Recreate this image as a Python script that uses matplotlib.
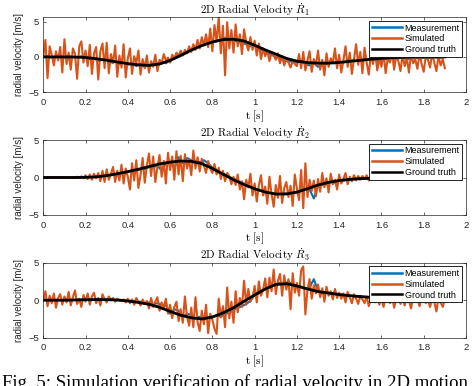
import numpy as np
import matplotlib
matplotlib.use("Agg")
import matplotlib.pyplot as plt

plt.rcParams['mathtext.fontset'] = 'cm'
plt.rcParams['font.family'] = ['Liberation Sans', 'DejaVu Sans']

# ---------------- data ----------------
t_sim_step = 0.01
t_meas_step = 0.02
t_gt_step = 0.05

sim1 = [0.0, 2.4, -3.0, 1.5, 0.3, -1.2, 0.8, -0.5, 1.4, -2.2,
        2.5, -1.0, 0.6, -1.8, 1.2, 0.4, -3.1, 1.5, 2.2, -0.8,
        0.9, -1.3, 1.7, -2.4, 0.5, 1.4, -3.2, 0.8, 1.9, -1.6,
        2.0, -2.3, 0.4, -0.9, 1.6, -2.8, 0.2, -1.5, 1.8, -2.9,
        -0.2, 1.2, -2.4, 0.1, -0.9, 0.9, -2.5, -0.3, -1.6, 0.2,
        -2.2, -0.6, -1.4, 0.3, -2.0, -0.4, -0.9, 0.4, -0.5, -0.1,
        -0.8, 0.3, -0.2, 0.6, 0.1, 0.9, 0.2, 1.0, 0.5, 1.5,
        0.7, 1.8, 1.0, 2.4, 1.2, 2.8, 1.6, 3.2, 1.4, 4.0,
        0.8, 4.5, 2.2, 5.6, 0.5, 4.4, -2.6, 4.9, 1.2, 3.8,
        0.6, 4.6, 1.5, 3.2, 0.4, 3.9, 2.0, 0.9, 2.8, 1.0,
        2.3, 0.2, 1.9, -0.3, 1.2, 0.1, 0.9, -0.6, 0.6, 0.2,
        -0.4, 0.5, -0.9, 0.1, -1.2, -0.3, -0.8, -1.5, -0.6, -1.0,
        -1.3, 0.4, -1.6, 0.7, -1.9, -0.5, 0.8, -2.1, -0.3, -1.2,
        0.9, -1.8, -0.4, -2.6, 0.5, -1.4, -0.2, -0.9, 1.2, -1.6,
        0.3, -2.2, -0.5, 1.5, -1.4, 0.6, -2.4, -0.3, 1.8, -1.1,
        0.7, -2.3, 1.3, -0.8, -2.5, 0.4, -1.0, 0.9, -1.9, -0.2,
        -1.4, 0.5, -2.3, -0.1, -0.8, 0.6, -1.8, 0.2, -0.6, -2.0,
        0.3, -1.3, -0.2, -2.2, 0.4, -0.9, -0.3, -1.7, 0.5, -1.0,
        -2.1, 0.2, -0.4, -1.5, 0.6, -0.8, -2.0, 0.1, -1.2, -0.3,
        -1.6]
meas1 = [0, 0.1, -0.1, 0.05, 0, -0.1, 0.1, 0, -0.05, 0.1,
         -0.1, -0.3, -0.2, -0.6, -0.4, -0.3, -0.8, -0.6, -1.0, -0.8,
         -1.1, -0.9, -1.3, -1.0, -1.4, -1.1, -1.2, -0.9, -0.7, -0.9,
         -0.4, -0.2, 0.3, 0.5, 0.8, 1.1, 1.4, 1.5, 1.8, 2.2,
         2.0, 2.4, 2.3, 2.7, 2.5, 2.4, 2.1, 2.0, 1.8, 1.5,
         1.6, 1.1, 0.9, 0.5, 0.3, 0.0, -0.2, -0.5, -0.6, -0.7,
         -0.8, -0.6, -1.0, -1.2, -0.8, -1.4, -0.9, -1.0, -0.8, -0.9,
         -0.7, -0.8, -0.6, -0.5, -0.6, -0.5, -0.3, -0.4, -0.3, -0.6,
         -0.5, -0.3, -0.2, -0.4, -0.2, -0.1, -0.3, -0.2, -0.1, -0.2,
         -0.1, -0.2, 0.0, -0.1, -0.1, 0.0]
gt1 = [0, 0, 0, -0.02, -0.08, -0.25, -0.47, -0.72, -0.95, -1.12,
       -1.2, -1.0, -0.5, 0.2, 0.95, 1.6, 2.1, 2.45, 2.5, 2.25,
       1.65, 1.0, 0.4, -0.2, -0.6, -0.8, -0.88, -0.88, -0.78, -0.62,
       -0.48, -0.32, -0.2, -0.1, -0.05, 0, 0, 0, 0]

sim2 = [0, 0.02, -0.02, 0.03, -0.03, 0.02, 0, -0.02, 0.03, 0,
        -0.03, 0.04, 0, -0.05, 0.06, -0.04, 0.1, -0.08, 0.15, -0.1,
        0.3, -0.2, 0.4, -0.3, 0.5, -0.1, 0.6, -0.5, 0.9, -0.6,
        1.1, -0.3, 0.5, 1.4, -0.6, 0.9, -0.4, 1.7, -0.8, 1.2,
        0.1, -1.6, 1.9, -0.4, 2.3, -1.4, 0.3, 2.6, -0.7, 1.6,
        3.2, 0.2, 2.8, -0.6, 1.4, 3.0, 0.1, 2.2, -0.8, 3.3,
        1.0, 2.8, -0.3, 3.5, 0.4, 2.9, -0.5, 3.1, 1.2, 2.4,
        0.3, 3.6, 1.2, 2.7, 0.8, 2.5, 1.6, 0.6, 2.2, 1.2,
        0.6, 1.8, 0.4, 1.3, -0.2, 0.9, -0.5, 0.6, 0.2, -0.9,
        0.1, -1.0, 0.4, -1.6, -0.5, -2.9, -0.3, -1.3, 0.5, -2.4,
        -0.8, -3.2, -1.0, 0.3, -2.4, -1.2, -3.5, 0.1, -2.2, -3.9,
        -1.0, -2.7, 0.2, -3.4, -1.4, -0.6, -2.6, -1.1, -3.8, 0.4,
        -1.5, -3.0, 1.0, -4.1, 1.9, -2.6, -0.3, -1.8, -0.4, -2.5,
        -0.2, -1.9, 0.6, -1.3, -0.1, -2.0, 0.5, -0.9, -0.3, -1.6,
        0.4, -0.8, -0.2, 0.6, -0.9, 0.1, -0.5, 0.3, -0.4, 0.2,
        -0.3, 0.2, -0.2, 0.3, -0.4, 0.1, -0.2, 0.2, -0.1, 0.1,
        -0.2, 0.1, -0.1, 0.2, -0.2, 0.1, 0, 0.1, -0.1, 0.1,
        0, -0.1, 0.1, -0.1, 0, 0.1, -0.1, 0, 0.1, -0.1,
        0, 0.1, -0.1, 0, 0.1, -0.1, 0, 0.1, 0, -0.1,
        0]
meas2 = [0, 0, 0, 0, 0, 0, 0, 0, 0, 0.02,
         0.02, 0.05, 0.1, 0.15, 0.2, 0.3, 0.35, 0.45, 0.55, 0.65,
         0.75, 0.9, 0.85, 1.15, 1.1, 1.4, 1.35, 1.6, 0.9, 1.9,
         2.0, 1.3, 2.7, 1.9, 2.6, 2.3, 2.2, 2.0, 2.3, 1.9,
         1.3, 1.0, 0.6, 0.4, 0.1, -0.2, -0.4, -0.7, -0.9, -1.2,
         -1.5, -1.6, -1.9, -2.0, -2.1, -2.3, -2.2, -2.1, -2.2, -2.1,
         -2.0, -1.6, -1.5, -1.6, -2.8, -1.1, -1.0, -0.9, -0.6, -0.7,
         -0.4, -0.4, -0.3, -0.3, -0.2, -0.2, -0.15, -0.1, -0.1, -0.05,
         -0.05, 0, 0, 0, 0, 0, 0, 0, 0, 0,
         0, 0, 0, 0, 0, 0]
gt2 = [0, 0, 0, 0, 0.02, 0.08, 0.25, 0.5, 0.78, 1.1,
       1.45, 1.8, 2.05, 2.2, 2.15, 1.85, 1.2, 0.45, -0.3, -0.95,
       -1.5, -1.95, -2.2, -2.2, -1.95, -1.5, -1.0, -0.65, -0.4, -0.25,
       -0.15, -0.1, -0.05, 0, 0, 0, 0, 0, 0]

sim3 = [0, 1.2, -0.8, 0.6, -0.4, 0.9, -1.0, 0.3, 0.8, -0.6,
        0.5, -0.3, 1.1, -0.7, 0.4, 1.3, -0.5, 0.2, -0.9, 0.7,
        -0.2, 0.9, -0.6, 0.5, 1.0, -0.4, 0.3, -0.7, 0.8, 0.1,
        -0.3, 0.5, 0.0, 0.3, -0.2, 0.2, 0.0, -0.1, 0.1, -0.3,
        0.2, -0.4, 0.1, -0.6, 0.3, -0.2, -0.7, 0.1, -0.5, -0.1,
        -1.1, 0.3, -0.9, -0.2, 0.4, -1.4, -0.3, -1.0, 0.2, -1.8,
        -0.6, -2.4, -0.9, -0.2, -2.8, -1.2, -3.0, 0.5, -2.2, -3.4,
        -1.0, -3.6, 0.4, -2.9, -4.1, -1.4, -3.2, -0.6, -4.4, -1.8,
        -2.6, -3.8, -4.5, 0.2, -2.3, -0.8, -3.6, 1.7, -2.4, -0.2,
        -3.0, 1.2, -1.6, 0.3, -0.9, 2.6, -0.6, 1.5, -0.2, 0.4,
        1.9, -0.3, 2.5, 0.6, 1.4, 2.9, 0.4, 3.0, 1.2, 4.1,
        0.8, 2.6, 3.5, 0.6, 3.3, 1.4, 2.8, -1.2, 3.6, 1.0,
        2.3, 0.6, 4.0, 4.5, -1.9, 1.4, 2.8, 0.2, 2.0, 0.9,
        2.1, 0.4, 1.6, -0.2, 1.8, 0.6, 1.2, 0.1, 1.5, 0.3,
        1.0, 0.2, 0.9, -0.3, 1.1, 0.4, -0.4, 0.8, 0.2, -0.5,
        0.6, 0.1, -0.4, 0.5, -0.8, 0.2, 0.7, -0.3, 0.4, -0.6,
        0.3, -0.9, 0.5, 0.1, -0.4, 0.6, -1.0, 0.2, 0.4, -0.5,
        0.3, -0.7, 0.5, 0.0, -1.1, 0.4, -0.2, 0.3, -0.8, 0.2,
        0.5, -0.4, 0.1, -0.9, 0.3, -0.2, -1.5, 0.4, -0.3, -0.9,
        0.2]
meas3 = [0, 0.05, 0, 0.05, 0, 0.05, 0, 0.05, 0.05, 0.05,
         0.05, 0.1, 0.05, 0.1, 0.1, 0.05, 0.1, 0.05, 0.05, 0,
         -0.1, -0.1, -0.2, -0.2, -0.4, -0.3, -0.5, -0.4, -0.6, -0.7,
         -1.8, -1.2, -1.4, -2.3, -1.8, -2.0, -2.4, -2.2, -2.5, -2.3,
         -2.2, -2.0, -2.2, -1.8, -1.7, -1.3, -1.0, -0.8, -0.5, -0.1,
         0.7, 0.9, 1.3, 1.6, 1.8, 2.1, 2.3, 2.1, 2.5, 2.0,
         1.9, 1.8, 1.5, 1.7, 2.8, 1.2, 1.1, 1.0, 0.9, 1.0,
         0.75, 0.7, 0.65, 0.6, 0.55, 0.5, 0.45, 0.4, 0.4, 0.35,
         0.3, 0.28, 0.25, 0.22, 0.2, 0.18, 0.15, 0.12, 0.1, 0.08,
         0.06, 0.05, 0.03, 0.02, 0.01, 0]
gt3 = [0, 0, 0, 0.03, 0.06, 0.08, 0.07, 0.02, -0.1, -0.3,
       -0.55, -0.95, -1.5, -2.0, -2.35, -2.5, -2.25, -1.7, -1.0, -0.15,
       0.7, 1.5, 2.1, 2.2, 1.9, 1.5, 1.15, 0.95, 0.75, 0.6,
       0.48, 0.38, 0.3, 0.22, 0.16, 0.1, 0.06, 0.03, 0]

titles = [r'$\mathrm{2D\ Radial\ Velocity}\ \dot{R}_1$',
          r'$\mathrm{2D\ Radial\ Velocity}\ \dot{R}_2$',
          r'$\mathrm{2D\ Radial\ Velocity}\ \dot{R}_3$']
ylims = [(-5, 5.6), (-5, 5), (-5, 5)]
xticks = [0, 0.2, 0.4, 0.6, 0.8, 1, 1.2, 1.4, 1.6, 1.8, 2]
xtick_labels = ['0', '0.2', '0.4', '0.6', '0.8', '1', '1.2', '1.4', '1.6', '1.8', '2']
yticks = [-5, 0, 5]
legend_labels = ['Measurement', 'Simulated', 'Ground truth']
caption = 'Fig. 5: Simulation verification of radial velocity in 2D motion'

C_BLUE = '#0072BD'
C_ORANGE = '#D95319'
AX_COL = '#262626'

W, H = 474, 386
fig = plt.figure(figsize=(W / 100, H / 100), dpi=100)

panels = [(sim1, meas1, gt1), (sim2, meas2, gt2), (sim3, meas3, gt3)]
tops_px = [17.3, 140.0, 262.7]
left_px, right_px, h_px = 43.3, 466.0, 75.0

for i, (sim, meas, gt) in enumerate(panels):
    ax = fig.add_axes([left_px / W, 1 - (tops_px[i] + h_px) / H,
                       (right_px - left_px) / W, h_px / H])
    ts = np.arange(len(sim)) * t_sim_step
    tm = np.arange(len(meas)) * t_meas_step
    tg = np.arange(len(gt)) * t_gt_step
    l1, = ax.plot(tm, meas, color=C_BLUE, lw=1.5)
    l2, = ax.plot(ts, sim, color=C_ORANGE, lw=1.5)
    l3, = ax.plot(tg, gt, color='black', lw=2.0)
    ax.set_xlim(0, 2)
    ax.set_ylim(*ylims[i])
    ax.set_xticks(xticks)
    ax.set_xticklabels(xtick_labels)
    ax.set_yticks(yticks)
    ax.tick_params(direction='in', top=True, right=True, length=2.5,
                   width=0.5, colors=AX_COL, labelsize=6.8)
    ax.tick_params(axis='x', pad=4)
    ax.tick_params(axis='y', pad=3)
    for s in ax.spines.values():
        s.set_linewidth(0.5)
        s.set_color(AX_COL)
    ax.set_title(titles[i], fontsize=8, pad=2.5)
    ax.set_ylabel('radial velocity [m/s]', fontsize=7, color=AX_COL, labelpad=3)
    ax.set_xlabel(r'$\mathrm{t\ [s]}$', fontsize=8, labelpad=1)
    leg = ax.legend([l1, l2, l3], legend_labels, loc='upper right',
                    fontsize=6.5, fancybox=False, framealpha=1,
                    edgecolor='black', handlelength=3.3, handletextpad=0.3,
                    labelspacing=0.2, borderpad=0.3, borderaxespad=0.4)
    leg.get_frame().set_linewidth(0.6)
    for ln in leg.get_lines():
        ln.set_linewidth(1.8)

fig.text(2 / W, -1.5 / H, caption, family='Liberation Serif', fontsize=13.5,
         ha='left', va='baseline')

fig.savefig('out.png', dpi=100)
